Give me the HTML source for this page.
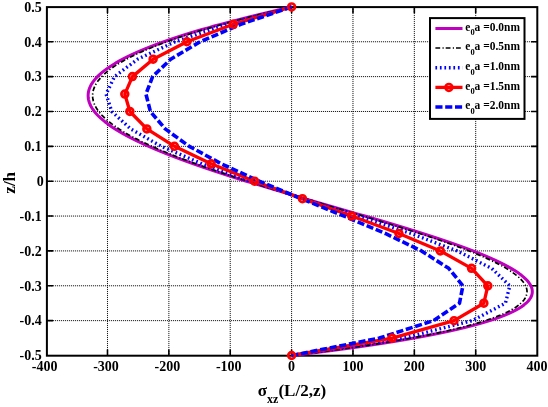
<!DOCTYPE html><html><head><meta charset="utf-8"><title>plot</title><style>html,body{margin:0;padding:0;background:#fff}svg{display:block}text{font-family:"Liberation Serif","Times New Roman",serif;font-weight:bold;fill:#000}</style></head><body>
<svg width="548" height="407" viewBox="0 0 548 407">
<rect width="548" height="407" fill="#fff"/>
<path d="M107.49 7.10 V355.70 M168.86 7.10 V355.70 M230.23 7.10 V355.70 M291.60 7.10 V355.70 M352.97 7.10 V355.70 M414.34 7.10 V355.70 M475.71 7.10 V355.70 M46.90 320.64 H537.30 M46.90 285.78 H537.30 M46.90 250.92 H537.30 M46.90 216.06 H537.30 M46.90 181.20 H537.30 M46.90 146.34 H537.30 M46.90 111.48 H537.30 M46.90 76.62 H537.30 M46.90 41.76 H537.30" stroke="#000" stroke-width="1" stroke-dasharray="1 1" fill="none"/>
<rect x="46.90" y="7.10" width="490.40" height="348.60" fill="none" stroke="#000" stroke-width="2"/>
<path d="M107.49 355.70 v-6.20 M107.49 7.10 v6.20 M168.86 355.70 v-6.20 M168.86 7.10 v6.20 M230.23 355.70 v-6.20 M230.23 7.10 v6.20 M291.60 355.70 v-6.20 M291.60 7.10 v6.20 M352.97 355.70 v-6.20 M352.97 7.10 v6.20 M414.34 355.70 v-6.20 M414.34 7.10 v6.20 M475.71 355.70 v-6.20 M475.71 7.10 v6.20 M46.90 320.64 h6.20 M537.30 320.64 h-6.20 M46.90 285.78 h6.20 M537.30 285.78 h-6.20 M46.90 250.92 h6.20 M537.30 250.92 h-6.20 M46.90 216.06 h6.20 M537.30 216.06 h-6.20 M46.90 181.20 h6.20 M537.30 181.20 h-6.20 M46.90 146.34 h6.20 M537.30 146.34 h-6.20 M46.90 111.48 h6.20 M537.30 111.48 h-6.20 M46.90 76.62 h6.20 M537.30 76.62 h-6.20 M46.90 41.76 h6.20 M537.30 41.76 h-6.20" stroke="#000" stroke-width="1.6" fill="none"/>
<g fill="none" stroke-linejoin="round">
<path d="M291.60 6.90 L283.88 8.64 L276.30 10.39 L268.85 12.13 L261.53 13.87 L254.35 15.61 L247.31 17.36 L240.41 19.10 L233.64 20.84 L227.02 22.59 L220.55 24.33 L214.21 26.07 L208.03 27.82 L201.99 29.56 L196.10 31.30 L190.35 33.04 L184.76 34.79 L179.32 36.53 L174.03 38.27 L168.90 40.02 L163.91 41.76 L159.09 43.50 L154.42 45.25 L149.90 46.99 L145.54 48.73 L141.34 50.47 L137.30 52.22 L133.41 53.96 L129.69 55.70 L126.12 57.45 L122.71 59.19 L119.47 60.93 L116.38 62.68 L113.45 64.42 L110.69 66.16 L108.08 67.91 L105.64 69.65 L103.35 71.39 L101.23 73.13 L99.27 74.88 L97.46 76.62 L95.82 78.36 L94.34 80.11 L93.01 81.85 L91.85 83.59 L90.84 85.33 L90.00 87.08 L89.31 88.82 L88.78 90.56 L88.40 92.31 L88.18 94.05 L88.12 95.79 L88.21 97.54 L88.45 99.28 L88.85 101.02 L89.40 102.76 L90.09 104.51 L90.94 106.25 L91.94 107.99 L93.09 109.74 L94.38 111.48 L95.82 113.22 L97.40 114.97 L99.13 116.71 L100.99 118.45 L103.00 120.19 L105.14 121.94 L107.42 123.68 L109.84 125.42 L112.39 127.17 L115.07 128.91 L117.89 130.65 L120.83 132.40 L123.90 134.14 L127.09 135.88 L130.40 137.62 L133.84 139.37 L137.40 141.11 L141.07 142.85 L144.85 144.60 L148.75 146.34 L152.76 148.08 L156.88 149.83 L161.10 151.57 L165.42 153.31 L169.85 155.05 L174.37 156.80 L178.99 158.54 L183.70 160.28 L188.50 162.03 L193.39 163.77 L198.36 165.51 L203.42 167.26 L208.55 169.00 L213.76 170.74 L219.04 172.49 L224.39 174.23 L229.81 175.97 L235.29 177.71 L240.84 179.46 L246.44 181.20 L252.09 182.94 L257.79 184.69 L263.54 186.43 L269.34 188.17 L275.17 189.91 L281.04 191.66 L286.94 193.40 L292.87 195.14 L298.83 196.89 L304.81 198.63 L310.80 200.37 L316.81 202.12 L322.83 203.86 L328.86 205.60 L334.88 207.35 L340.91 209.09 L346.92 210.83 L352.93 212.57 L358.92 214.32 L364.89 216.06 L370.84 217.80 L376.75 219.55 L382.64 221.29 L388.49 223.03 L394.29 224.77 L400.05 226.52 L405.76 228.26 L411.41 230.00 L417.00 231.75 L422.52 233.49 L427.97 235.23 L433.35 236.98 L438.64 238.72 L443.85 240.46 L448.96 242.21 L453.98 243.95 L458.90 245.69 L463.71 247.43 L468.41 249.18 L472.99 250.92 L477.45 252.66 L481.77 254.41 L485.96 256.15 L490.02 257.89 L493.92 259.63 L497.67 261.38 L501.27 263.12 L504.70 264.86 L507.96 266.61 L511.05 268.35 L513.95 270.09 L516.66 271.84 L519.19 273.58 L521.51 275.32 L523.62 277.06 L525.52 278.81 L527.20 280.55 L528.66 282.29 L529.88 284.04 L530.86 285.78 L531.60 287.52 L532.09 289.27 L532.32 291.01 L532.28 292.75 L531.96 294.50 L531.37 296.24 L530.49 297.98 L529.32 299.72 L527.85 301.47 L526.07 303.21 L523.97 304.95 L521.55 306.70 L518.81 308.44 L515.72 310.18 L512.29 311.93 L508.51 313.67 L504.37 315.41 L499.86 317.15 L494.97 318.90 L489.71 320.64 L484.05 322.38 L477.99 324.13 L471.53 325.87 L464.66 327.61 L457.36 329.36 L449.63 331.10 L441.46 332.84 L432.85 334.58 L423.78 336.33 L414.25 338.07 L404.25 339.81 L393.77 341.56 L382.80 343.30 L371.33 345.04 L359.35 346.78 L346.87 348.53 L333.86 350.27 L320.31 352.01 L306.23 353.76 L291.60 355.50" stroke="#bf00bf" stroke-width="3"/>
<path d="M291.60 6.90 L284.05 8.64 L276.64 10.39 L269.35 12.13 L262.19 13.87 L255.17 15.61 L248.28 17.36 L241.53 19.10 L234.92 20.84 L228.44 22.59 L222.11 24.33 L215.92 26.07 L209.87 27.82 L203.96 29.56 L198.20 31.30 L192.58 33.04 L187.11 34.79 L181.79 36.53 L176.62 38.27 L171.60 40.02 L166.72 41.76 L162.00 43.50 L157.43 45.25 L153.02 46.99 L148.76 48.73 L144.65 50.47 L140.69 52.22 L136.89 53.96 L133.25 55.70 L129.76 57.45 L126.43 59.19 L123.25 60.93 L120.24 62.68 L117.37 64.42 L114.67 66.16 L112.12 67.91 L109.73 69.65 L107.49 71.39 L105.42 73.13 L103.50 74.88 L101.73 76.62 L100.13 78.36 L98.68 80.11 L97.38 81.85 L96.24 83.59 L95.26 85.33 L94.43 87.08 L93.76 88.82 L93.24 90.56 L92.87 92.31 L92.66 94.05 L92.59 95.79 L92.68 97.54 L92.92 99.28 L93.31 101.02 L93.84 102.76 L94.53 104.51 L95.36 106.25 L96.33 107.99 L97.46 109.74 L98.72 111.48 L100.13 113.22 L101.67 114.97 L103.36 116.71 L105.19 118.45 L107.15 120.19 L109.24 121.94 L111.48 123.68 L113.84 125.42 L116.33 127.17 L118.96 128.91 L121.71 130.65 L124.58 132.40 L127.59 134.14 L130.71 135.88 L133.95 137.62 L137.31 139.37 L140.79 141.11 L144.38 142.85 L148.08 144.60 L151.89 146.34 L155.81 148.08 L159.84 149.83 L163.97 151.57 L168.20 153.31 L172.53 155.05 L176.95 156.80 L181.47 158.54 L186.07 160.28 L190.77 162.03 L195.55 163.77 L200.41 165.51 L205.36 167.26 L210.38 169.00 L215.47 170.74 L220.64 172.49 L225.87 174.23 L231.17 175.97 L236.53 177.71 L241.95 179.46 L247.43 181.20 L252.96 182.94 L258.54 184.69 L264.16 186.43 L269.83 188.17 L275.53 189.91 L281.27 191.66 L287.04 193.40 L292.85 195.14 L298.67 196.89 L304.52 198.63 L310.38 200.37 L316.26 202.12 L322.14 203.86 L328.04 205.60 L333.93 207.35 L339.82 209.09 L345.70 210.83 L351.58 212.57 L357.44 214.32 L363.28 216.06 L369.09 217.80 L374.88 219.55 L380.64 221.29 L386.35 223.03 L392.03 224.77 L397.66 226.52 L403.24 228.26 L408.77 230.00 L414.24 231.75 L419.64 233.49 L424.97 235.23 L430.23 236.98 L435.41 238.72 L440.50 240.46 L445.50 242.21 L450.41 243.95 L455.22 245.69 L459.93 247.43 L464.52 249.18 L469.00 250.92 L473.36 252.66 L477.59 254.41 L481.69 256.15 L485.65 257.89 L489.47 259.63 L493.14 261.38 L496.66 263.12 L500.01 264.86 L503.20 266.61 L506.22 268.35 L509.06 270.09 L511.71 271.84 L514.18 273.58 L516.45 275.32 L518.52 277.06 L520.37 278.81 L522.02 280.55 L523.44 282.29 L524.64 284.04 L525.60 285.78 L526.32 287.52 L526.80 289.27 L527.02 291.01 L526.98 292.75 L526.68 294.50 L526.10 296.24 L525.24 297.98 L524.09 299.72 L522.65 301.47 L520.91 303.21 L518.86 304.95 L516.50 306.70 L513.81 308.44 L510.79 310.18 L507.43 311.93 L503.74 313.67 L499.69 315.41 L495.28 317.15 L490.50 318.90 L485.35 320.64 L479.82 322.38 L473.89 324.13 L467.57 325.87 L460.85 327.61 L453.71 329.36 L446.15 331.10 L438.17 332.84 L429.74 334.58 L420.87 336.33 L411.55 338.07 L401.77 339.81 L391.52 341.56 L380.79 343.30 L369.57 345.04 L357.86 346.78 L345.65 348.53 L332.93 350.27 L319.68 352.01 L305.91 353.76 L291.60 355.50" stroke="#000" stroke-width="1.7" stroke-dasharray="4.8 2.3 1.2 2"/>
<path d="M291.60 6.90 L226.80 24.33 L175.15 41.76 L137.58 59.19 L114.55 76.62 L106.08 94.05 L111.74 111.48 L130.61 128.91 L161.32 146.34 L202.03 163.77 L250.41 181.20 L303.65 198.63 L358.44 216.06 L411.00 233.49 L457.03 250.92 L491.73 268.35 L509.81 285.78 L505.44 303.21 L472.27 320.64 L403.46 338.07 L291.60 355.50" stroke="#0000ff" stroke-width="3.4" stroke-dasharray="1.7 2.8"/>
<path d="M291.60 6.90 L233.34 24.33 L186.90 41.76 L153.11 59.19 L132.41 76.62 L124.80 94.05 L129.88 111.48 L146.85 128.91 L174.46 146.34 L211.07 163.77 L254.57 181.20 L302.43 198.63 L351.70 216.06 L398.95 233.49 L440.34 250.92 L471.54 268.35 L487.80 285.78 L483.86 303.21 L454.05 320.64 L392.17 338.07 L291.60 355.50" stroke="#ff0000" stroke-width="3.3"/>
<path d="M291.60 6.90 L240.73 24.33 L200.18 41.76 L170.68 59.19 L152.60 76.62 L145.95 94.05 L150.39 111.48 L165.21 128.91 L189.32 146.34 L221.28 163.77 L259.26 181.20 L301.06 198.63 L344.07 216.06 L385.34 233.49 L421.48 250.92 L448.72 268.35 L462.91 285.78 L459.48 303.21 L433.44 320.64 L379.42 338.07 L291.60 355.50" stroke="#0000ff" stroke-width="3.6" stroke-dasharray="7.1 2.7"/>
<circle cx="291.60" cy="6.90" r="3.4" stroke="#ff0000" stroke-width="2.7"/>
<circle cx="233.34" cy="24.33" r="3.4" stroke="#ff0000" stroke-width="2.7"/>
<circle cx="186.90" cy="41.76" r="3.4" stroke="#ff0000" stroke-width="2.7"/>
<circle cx="153.11" cy="59.19" r="3.4" stroke="#ff0000" stroke-width="2.7"/>
<circle cx="132.41" cy="76.62" r="3.4" stroke="#ff0000" stroke-width="2.7"/>
<circle cx="124.80" cy="94.05" r="3.4" stroke="#ff0000" stroke-width="2.7"/>
<circle cx="129.88" cy="111.48" r="3.4" stroke="#ff0000" stroke-width="2.7"/>
<circle cx="146.85" cy="128.91" r="3.4" stroke="#ff0000" stroke-width="2.7"/>
<circle cx="174.46" cy="146.34" r="3.4" stroke="#ff0000" stroke-width="2.7"/>
<circle cx="211.07" cy="163.77" r="3.4" stroke="#ff0000" stroke-width="2.7"/>
<circle cx="254.57" cy="181.20" r="3.4" stroke="#ff0000" stroke-width="2.7"/>
<circle cx="302.43" cy="198.63" r="3.4" stroke="#ff0000" stroke-width="2.7"/>
<circle cx="351.70" cy="216.06" r="3.4" stroke="#ff0000" stroke-width="2.7"/>
<circle cx="398.95" cy="233.49" r="3.4" stroke="#ff0000" stroke-width="2.7"/>
<circle cx="440.34" cy="250.92" r="3.4" stroke="#ff0000" stroke-width="2.7"/>
<circle cx="471.54" cy="268.35" r="3.4" stroke="#ff0000" stroke-width="2.7"/>
<circle cx="487.80" cy="285.78" r="3.4" stroke="#ff0000" stroke-width="2.7"/>
<circle cx="483.86" cy="303.21" r="3.4" stroke="#ff0000" stroke-width="2.7"/>
<circle cx="454.05" cy="320.64" r="3.4" stroke="#ff0000" stroke-width="2.7"/>
<circle cx="392.17" cy="338.07" r="3.4" stroke="#ff0000" stroke-width="2.7"/>
<circle cx="291.60" cy="355.50" r="3.4" stroke="#ff0000" stroke-width="2.7"/>
</g>
<text transform="translate(44.62 371.4) scale(1 1)" font-size="14" text-anchor="middle">-400</text>
<text transform="translate(105.99 371.4) scale(1 1)" font-size="14" text-anchor="middle">-300</text>
<text transform="translate(167.36 371.4) scale(1 1)" font-size="14" text-anchor="middle">-200</text>
<text transform="translate(228.73 371.4) scale(1 1)" font-size="14" text-anchor="middle">-100</text>
<text transform="translate(291.60 371.4) scale(1 1)" font-size="14" text-anchor="middle">0</text>
<text transform="translate(352.97 371.4) scale(1 1)" font-size="14" text-anchor="middle">100</text>
<text transform="translate(414.34 371.4) scale(1 1)" font-size="14" text-anchor="middle">200</text>
<text transform="translate(475.71 371.4) scale(1 1)" font-size="14" text-anchor="middle">300</text>
<text transform="translate(537.08 371.4) scale(1 1)" font-size="14" text-anchor="middle">400</text>
<text x="41.7" y="360.30" font-size="14" text-anchor="end">-0.5</text>
<text x="41.7" y="325.44" font-size="14" text-anchor="end">-0.4</text>
<text x="41.7" y="290.58" font-size="14" text-anchor="end">-0.3</text>
<text x="41.7" y="255.72" font-size="14" text-anchor="end">-0.2</text>
<text x="41.7" y="220.86" font-size="14" text-anchor="end">-0.1</text>
<text x="43.8" y="186.00" font-size="14" text-anchor="end">0</text>
<text x="41.7" y="151.14" font-size="14" text-anchor="end">0.1</text>
<text x="41.7" y="116.28" font-size="14" text-anchor="end">0.2</text>
<text x="41.7" y="81.42" font-size="14" text-anchor="end">0.3</text>
<text x="41.7" y="46.56" font-size="14" text-anchor="end">0.4</text>
<text x="41.7" y="11.70" font-size="14" text-anchor="end">0.5</text>
<text x="292" y="396" font-size="17" text-anchor="middle">σ<tspan font-size="12" dy="6.8">xz</tspan><tspan dy="-6.8">(L/2,z)</tspan></text>
<text transform="translate(14.7 182.8) rotate(-90)" font-size="17" text-anchor="middle">z/h</text>
<rect x="430" y="18.1" width="94.5" height="100.8" fill="#fff" stroke="#000" stroke-width="2"/>
<path d="M435.4 28.5 H462.5" stroke="#bf00bf" stroke-width="3" fill="none"/>
<text transform="translate(465.3 30.8) scale(0.94 1)" font-size="12.2">e<tspan font-size="9" dy="4.5">0</tspan><tspan dy="-4.5">a =0.0nm</tspan></text>
<path d="M435.4 48.0 H462.5" stroke="#000" stroke-width="1.7" stroke-dasharray="4.8 2.3 1.2 2" fill="none"/>
<text transform="translate(465.3 50.3) scale(0.94 1)" font-size="12.2">e<tspan font-size="9" dy="4.5">0</tspan><tspan dy="-4.5">a =0.5nm</tspan></text>
<path d="M435.4 67.7 H462.5" stroke="#0000ff" stroke-width="3.4" stroke-dasharray="1.7 2.8" fill="none"/>
<text transform="translate(465.3 70.0) scale(0.94 1)" font-size="12.2">e<tspan font-size="9" dy="4.5">0</tspan><tspan dy="-4.5">a =1.0nm</tspan></text>
<path d="M435.4 87.4 H462.5" stroke="#ff0000" stroke-width="3.3" fill="none"/>
<circle cx="448.9" cy="87.4" r="3.4" stroke="#ff0000" stroke-width="2.7" fill="none"/>
<text transform="translate(465.3 89.7) scale(0.94 1)" font-size="12.2">e<tspan font-size="9" dy="4.5">0</tspan><tspan dy="-4.5">a =1.5nm</tspan></text>
<path d="M435.4 107.0 H462.5" stroke="#0000ff" stroke-width="3.6" stroke-dasharray="7.1 2.7" fill="none"/>
<text transform="translate(465.3 109.3) scale(0.94 1)" font-size="12.2">e<tspan font-size="9" dy="4.5">0</tspan><tspan dy="-4.5">a =2.0nm</tspan></text>
</svg></body></html>
